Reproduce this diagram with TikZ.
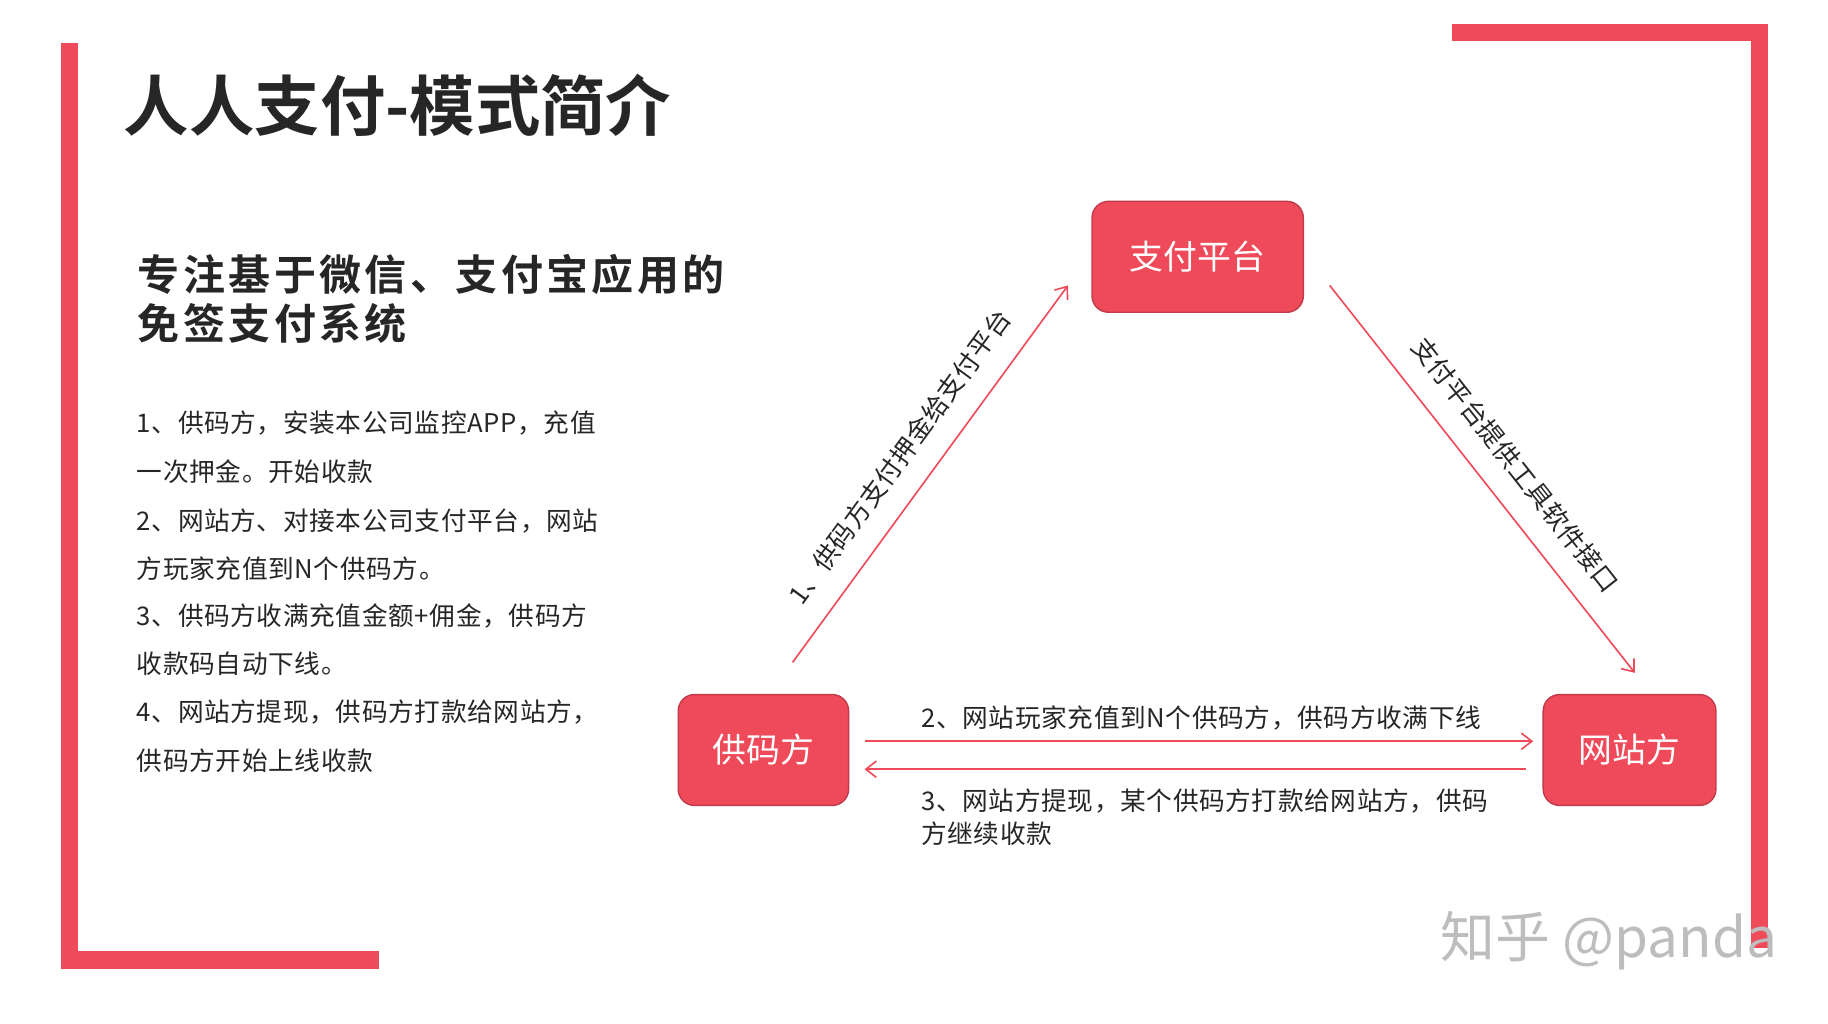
\documentclass[tikz,border=0pt]{standalone}
\usepackage{fontspec}
\setmainfont{Noto Sans CJK SC}[BoldFont={Noto Sans CJK SC Bold}]
\usetikzlibrary{arrows.meta}
\definecolor{brand}{HTML}{EF4A5A}
\definecolor{branddark}{HTML}{C23B4A}
\definecolor{ink}{HTML}{262626}
\definecolor{wm}{HTML}{BDBDBD}
\tikzset{
  bar/.style={fill=brand},
  box/.style={draw=branddark, line width=1.2pt, fill=brand, rounded corners=14pt,
    text=white, font=\fontsize{29}{34}\selectfont, inner sep=0pt},
  arr/.style={draw=brand, line width=1.4pt, -{Straight Barb[length=9pt,width=14pt,line width=1.4pt]}},
  body/.style={anchor=west, text=ink, font=\fontsize{22}{26}\selectfont\addfontfeature{LetterSpace=2.5}, inner sep=0pt},
  elabel/.style={text=ink, font=\fontsize{22}{26}\selectfont\addfontfeature{LetterSpace=2.5}, inner sep=0pt},
}
\begin{document}
\begin{tikzpicture}[x=1pt,y=-1pt]
\useasboundingbox (0,0) rectangle (1566,877);
% frame bars
\fill[bar] (52,37) rectangle (67,830);
\fill[bar] (52,815) rectangle (325,830);
\fill[bar] (1244,20.5) rectangle (1515,35.5);
\fill[bar] (1500,20.5) rectangle (1515,812);
% title
\node[anchor=west, text=ink, inner sep=0pt, font=\fontsize{56}{60}\selectfont\bfseries] (title) at (106,90) {人人支付-模式简介};
% subtitle
\node[anchor=west, text=ink, inner sep=0pt, font=\fontsize{36}{42}\selectfont\bfseries\addfontfeature{LetterSpace=8}] (sub1) at (118,235) {专注基于微信、支付宝应用的};
\node[anchor=west, text=ink, inner sep=0pt, font=\fontsize{36}{42}\selectfont\bfseries\addfontfeature{LetterSpace=8}] (sub2) at (118,277) {免签支付系统};
% body list
\node[body] (l1) at (117,362) {1、供码方，安装本公司监控APP，充值};
\node[body] (l2) at (117,404) {一次押金。开始收款};
\node[body] (l3) at (117,446) {2、网站方、对接本公司支付平台，网站};
\node[body] (l4) at (117,487) {方玩家充值到N个供码方。};
\node[body] (l5) at (117,528) {3、供码方收满充值金额+佣金，供码方};
\node[body] (l6) at (117,569) {收款码自动下线。};
\node[body] (l7) at (117,610) {4、网站方提现，供码方打款给网站方，};
\node[body] (l8) at (117,652) {供码方开始上线收款};
% nodes
\node[box, minimum width=181pt, minimum height=95pt] (pay) at (1026,220) {支付平台};
\node[box, minimum width=146pt, minimum height=95pt] (sup) at (654,642.5) {供码方};
\node[box, minimum width=148pt, minimum height=95pt] (web) at (1396,642.5) {网站方};
% connectors
\draw[arr] ([xshift=25pt,yshift=27pt]sup.north) -- ([xshift=-20pt,yshift=-24.5pt]pay.west)
  node[elabel, sloped, midway, above=19pt, xshift=-4pt] (lab1) {1、供码方支付押金给支付平台};
\draw[arr] ([xshift=22pt,yshift=-24.5pt]pay.east) -- ([xshift=4.5pt,yshift=18pt]web.north)
  node[elabel, sloped, midway, above=19pt, xshift=8pt] (lab2) {支付平台提供工具软件接口};
\draw[arr, shorten <=13pt, shorten >=8pt] ([yshift=7.5pt]sup.east) -- ([yshift=7.5pt]web.west);
\draw[arr, shorten <=14pt, shorten >=13pt] ([yshift=-16.5pt]web.west) -- ([yshift=-16.5pt]sup.east);
\node[elabel, anchor=west] (lab3) at (789,615) {2、网站玩家充值到N个供码方，供码方收满下线};
\node[elabel, anchor=west] (lab4) at (789,686) {3、网站方提现，某个供码方打款给网站方，供码};
\node[elabel, anchor=west] (lab5) at (789,714) {方继续收款};
% watermark
\node[anchor=west, text=wm, inner sep=0pt, font=\fontsize{47}{52}\selectfont] (wmk) at (1234,806) {知乎 @panda};
\end{tikzpicture}
\end{document}
